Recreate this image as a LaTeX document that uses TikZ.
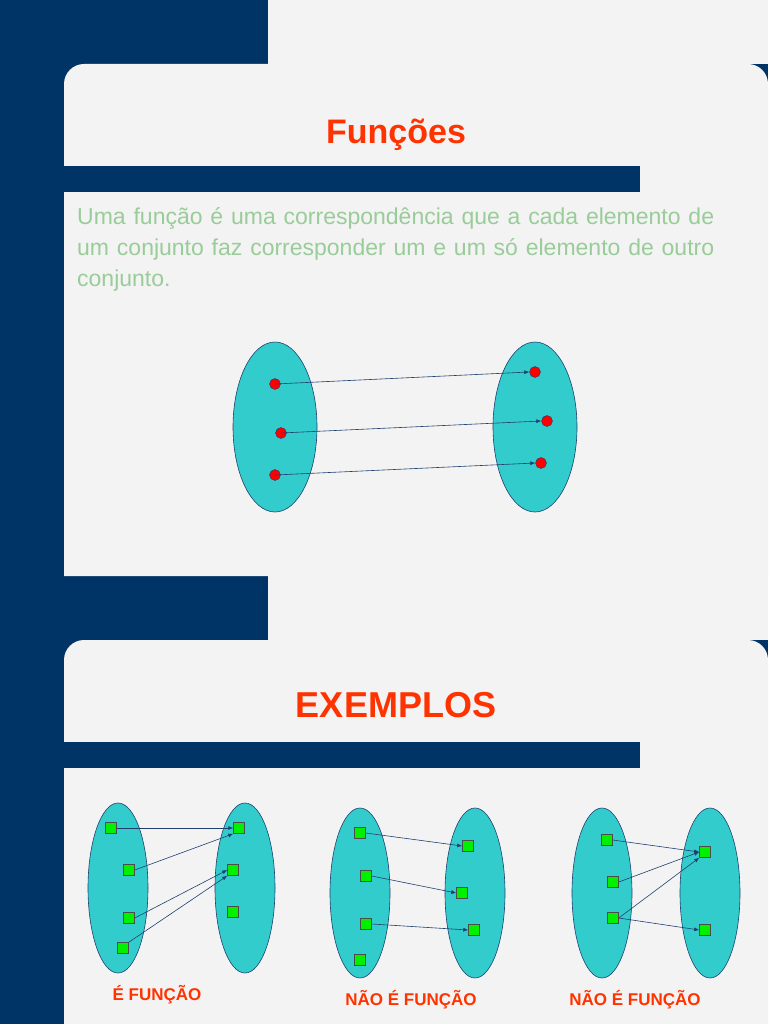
\documentclass[tikz,border=0pt]{standalone}
\usepackage{fontspec}
\setmainfont{Liberation Sans}
\usetikzlibrary{arrows.meta}
\definecolor{navy}{HTML}{003366}
\definecolor{bg}{HTML}{F3F3F3}
\definecolor{ttl}{HTML}{FF3300}
\definecolor{grn}{HTML}{99CC99}
\definecolor{cy}{HTML}{33CCCC}
\definecolor{ln}{HTML}{1F3F6F}
\begin{document}
\begin{tikzpicture}[x=1pt,y=-1pt,
  setb/.style={fill=cy,draw=ln,line width=0.6pt},
  dot/.style={circle,fill=red,draw=ln,line width=0.4pt,minimum size=11pt,inner sep=0pt},
  sq/.style={rectangle,fill=green!90!black!60!green,draw=black!70,line width=0.5pt,minimum size=11pt,inner sep=0pt},
  arr/.style={-{Latex[length=5pt,width=4pt]},draw=ln,line width=0.6pt},
  lab/.style={text=ttl,font=\bfseries\fontsize{17}{20}\selectfont}]
\useasboundingbox (0,0) rectangle (768,1024);
\fill[navy] (0,0) rectangle (768,1024);
\fill[bg] (268,0) rectangle (768,64);
\fill[bg] (268,576) rectangle (768,640);
\fill[bg] {[rounded corners=20pt] (64,576) -- (64,64) -- (768,64)} -- (768,576) -- cycle;
\fill[bg] {[rounded corners=20pt] (64,1024) -- (64,640) -- (768,640)} -- (768,1024) -- cycle;
\fill[navy] (64,166) rectangle (640,192);
\fill[navy] (64,742) rectangle (640,768);
\node[text=ttl,font=\bfseries\fontsize{34}{40}\selectfont] (t1) at (396,135) {Funções};
\node[text=ttl,font=\bfseries\fontsize{36}{42}\selectfont] (t2) at (396,705) {EXEMPLOS};
\node[text=grn,font=\fontsize{23}{31}\selectfont,text width=637pt,align=justify,anchor=north west,inner sep=0pt] (p) at (77,207) {Uma função é uma correspondência que a cada elemento de um conjunto faz corresponder um e um só elemento de outro conjunto.};
% top diagram
\draw[setb] (275,427) ellipse [x radius=42,y radius=85];
\draw[setb] (535,427) ellipse [x radius=42,y radius=85];
\node[dot] (a1) at (275,384) {};
\node[dot] (a2) at (281,433) {};
\node[dot] (a3) at (275,475) {};
\node[dot] (b1) at (535,372) {};
\node[dot] (b2) at (547,421) {};
\node[dot] (b3) at (541,463) {};
\draw[arr] (a1.center) -- (b1.west);
\draw[arr] (a2.center) -- (b2.west);
\draw[arr] (a3.center) -- (b3.west);
% group 1
\draw[setb] (118,888) ellipse [x radius=30,y radius=85];
\draw[setb] (245,888) ellipse [x radius=30,y radius=85];
\node[sq] (p1) at (111,828) {};
\node[sq] (p2) at (129,870) {};
\node[sq] (p3) at (129,918) {};
\node[sq] (p4) at (123,948) {};
\node[sq] (q1) at (239,828) {};
\node[sq] (q2) at (233,870) {};
\node[sq] (q3) at (233,912) {};
\draw[arr] (p1.east) -- (q1.west);
\draw[arr] (p2.east) -- (q1.south west);
\draw[arr] (p3.east) -- (q2.west);
\draw[arr] (p4.north east) -- (q2.south west);
\node[lab] (l1) at (157,995) {É FUNÇÃO};
% group 2
\draw[setb] (360,893) ellipse [x radius=30,y radius=85];
\draw[setb] (475,893) ellipse [x radius=30,y radius=85];
\node[sq] (r1) at (360,833) {};
\node[sq] (r2) at (366,876) {};
\node[sq] (r3) at (366,924) {};
\node[sq] (r4) at (360,960) {};
\node[sq] (s1) at (468,846) {};
\node[sq] (s2) at (462,893) {};
\node[sq] (s3) at (474,930) {};
\draw[arr] (r1.east) -- (s1.west);
\draw[arr] (r2.east) -- (s2.west);
\draw[arr] (r3.east) -- (s3.west);
\node[lab] (l2) at (411,1000) {NÃO É FUNÇÃO};
% group 3
\draw[setb] (602,893) ellipse [x radius=30,y radius=85];
\draw[setb] (710,893) ellipse [x radius=30,y radius=85];
\node[sq] (u1) at (607,840) {};
\node[sq] (u2) at (613,882) {};
\node[sq] (u3) at (613,918) {};
\node[sq] (v1) at (705,852) {};
\node[sq] (v2) at (705,930) {};
\draw[arr] (u1.east) -- (v1.west);
\draw[arr] (u2.east) -- (v1.west);
\draw[arr] (u3.east) -- (v1.south west);
\draw[arr] (u3.east) -- (v2.west);
\node[lab] (l3) at (635,1000) {NÃO É FUNÇÃO};
\end{tikzpicture}
\end{document}
